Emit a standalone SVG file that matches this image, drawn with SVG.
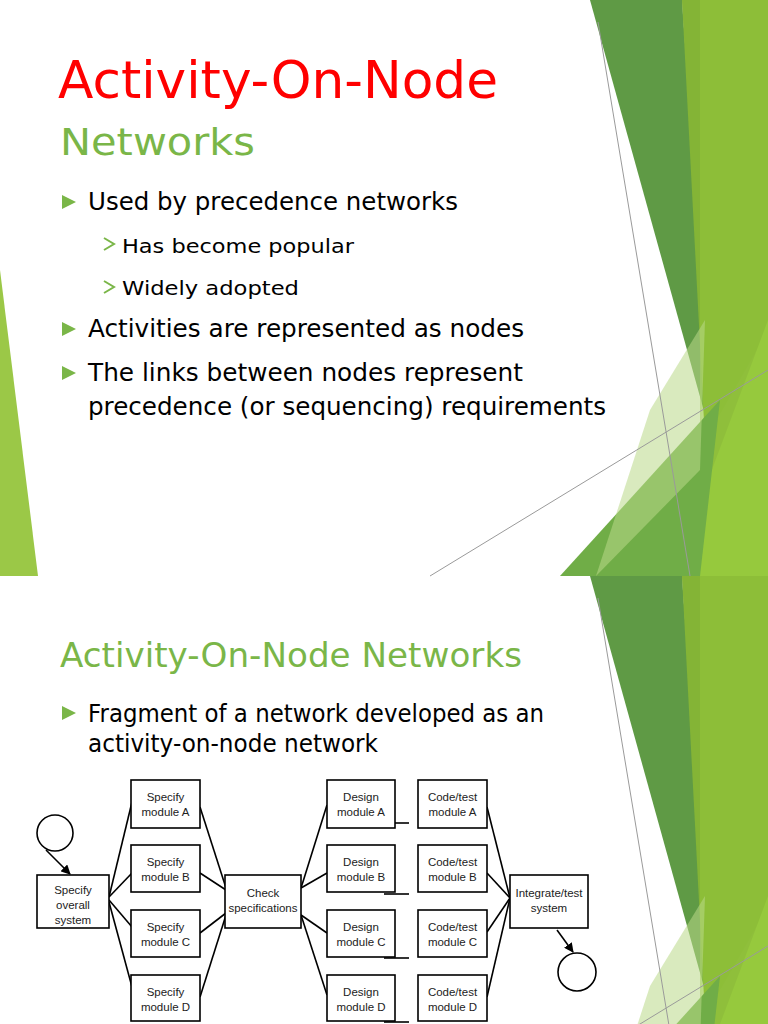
<svg xmlns="http://www.w3.org/2000/svg" xmlns:xlink="http://www.w3.org/1999/xlink" width="768" height="1024" viewBox="0 0 768 1024">
<style>
.t{font-family:"DejaVu Sans",sans-serif;fill:#000}
.b{font-size:24px}
.s{font-size:20px}
.n rect{fill:#fff;stroke:#000;stroke-width:1.6}
.n text{font-family:"Liberation Sans",Arial,sans-serif;font-size:11.5px;text-anchor:middle;fill:#222}
.c line{stroke:#000;stroke-width:1.6}
.thin{stroke:#9a9a9a;stroke-width:1;fill:none}
</style>
<defs>
<marker id="ah" viewBox="0 0 10 10" refX="9" refY="5" markerWidth="6" markerHeight="6" orient="auto"><path d="M0,0L10,5L0,10z" fill="#000"/></marker>
<clipPath id="s2"><rect x="0" y="576" width="768" height="448"/></clipPath>
<g id="deco">
<polygon points="682,0 768,0 768,576 690,576 712,440" fill="#8ab63c"/>
<polygon points="590,0 682,0 712,440" fill="#5f9a45"/>
<polygon points="682,0 768,0 768,330 705,440" fill="#84b436"/>
<polygon points="700,0 768,0 768,576 700,576" fill="#92c43a" opacity="0.6"/>
<polygon points="768,320 768,576 672,576" fill="#96c93d"/>
<polygon points="560,576 720,400 700,576" fill="#70ad47"/>
<polygon points="596,576 650,410 705,320 700,470" fill="#b9d889" opacity="0.55"/>
<line class="thin" x1="598" y1="22" x2="690" y2="576"/>
<line class="thin" x1="430" y1="576" x2="768" y2="370"/>
</g>
<polygon id="bul" points="0,0 14,7 0,14" fill="#7ab648"/>
</defs>
<rect width="768" height="1024" fill="#fff"/>
<use xlink:href="#deco"/>
<polygon points="0,270 38,576 0,576" fill="#9bc847"/>
<g clip-path="url(#s2)"><use xlink:href="#deco" transform="translate(0,576)"/></g>

<text x="58" y="98" font-family="DejaVu Sans,sans-serif" font-size="52" fill="#ff0000" textLength="440" lengthAdjust="spacingAndGlyphs">Activity-On-Node</text>
<text x="60" y="155" font-family="DejaVu Sans,sans-serif" font-size="38" fill="#7ab648" textLength="195" lengthAdjust="spacingAndGlyphs">Networks</text>
<use xlink:href="#bul" x="62" y="195"/>
<text class="t b" x="88" y="210" textLength="370" lengthAdjust="spacingAndGlyphs">Used by precedence networks</text>
<path d="M104,238 l10,6 l-10,6 M104,281 l10,6 l-10,6" stroke="#7ab648" stroke-width="2" fill="none"/>
<text class="t s" x="122" y="253" textLength="232" lengthAdjust="spacingAndGlyphs">Has become popular</text>
<text class="t s" x="122" y="295" textLength="177" lengthAdjust="spacingAndGlyphs">Widely adopted</text>
<use xlink:href="#bul" x="62" y="322"/>
<text class="t b" x="88" y="337" textLength="436" lengthAdjust="spacingAndGlyphs">Activities are represented as nodes</text>
<use xlink:href="#bul" x="62" y="366"/>
<text class="t b" x="88" y="381" textLength="435" lengthAdjust="spacingAndGlyphs">The links between nodes represent</text>
<text class="t b" x="88" y="415" textLength="518" lengthAdjust="spacingAndGlyphs">precedence (or sequencing) requirements</text>

<text x="60" y="667" font-family="DejaVu Sans,sans-serif" font-size="34" fill="#7ab648" textLength="462" lengthAdjust="spacingAndGlyphs">Activity-On-Node Networks</text>
<use xlink:href="#bul" x="62" y="706"/>
<text class="t b" x="88" y="722" textLength="456" lengthAdjust="spacingAndGlyphs">Fragment of a network developed as an</text>
<text class="t b" x="88" y="752" textLength="290" lengthAdjust="spacingAndGlyphs">activity-on-node network</text>

<g class="c">
<line x1="46" y1="850" x2="70" y2="874" marker-end="url(#ah)"/>
<line x1="109" y1="897" x2="132" y2="802"/>
<line x1="109" y1="897" x2="132" y2="873"/>
<line x1="109" y1="900" x2="132" y2="927"/>
<line x1="109" y1="902" x2="132" y2="987"/>
<line x1="200" y1="807" x2="226" y2="888"/>
<line x1="200" y1="873" x2="226" y2="890"/>
<line x1="200" y1="933" x2="226" y2="913"/>
<line x1="200" y1="997" x2="226" y2="915"/>
<line x1="301" y1="888" x2="327" y2="805"/>
<line x1="301" y1="888" x2="327" y2="873"/>
<line x1="301" y1="915" x2="327" y2="933"/>
<line x1="301" y1="915" x2="327" y2="995"/>
<line x1="384" y1="823" x2="409" y2="823"/>
<line x1="384" y1="894" x2="409" y2="894"/>
<line x1="384" y1="958" x2="409" y2="958"/>
<line x1="384" y1="1022" x2="409" y2="1022"/>
<line x1="487" y1="807" x2="510" y2="898"/>
<line x1="487" y1="873" x2="510" y2="898"/>
<line x1="487" y1="932" x2="510" y2="898"/>
<line x1="487" y1="997" x2="510" y2="898"/>
<line x1="557" y1="930" x2="573" y2="952" marker-end="url(#ah)"/>
</g>

<g id="start" class="n"><circle cx="55" cy="833" r="18" fill="#fff" stroke="#000" stroke-width="1.6"/></g>
<g id="overall" class="n"><rect x="37" y="875" width="72" height="53"/><text x="73" y="894">Specify</text><text x="73" y="909">overall</text><text x="73" y="924">system</text></g>
<g id="specA" class="n"><rect x="131" y="780" width="69" height="48"/><text x="165.5" y="801">Specify</text><text x="165.5" y="816">module A</text></g>
<g id="specB" class="n"><rect x="131" y="845" width="69" height="47"/><text x="165.5" y="866">Specify</text><text x="165.5" y="881">module B</text></g>
<g id="specC" class="n"><rect x="131" y="910" width="69" height="47"/><text x="165.5" y="931">Specify</text><text x="165.5" y="946">module C</text></g>
<g id="specD" class="n"><rect x="131" y="975" width="69" height="46"/><text x="165.5" y="996">Specify</text><text x="165.5" y="1011">module D</text></g>
<g id="check" class="n"><rect x="225" y="875" width="76" height="53"/><text x="263" y="897">Check</text><text x="263" y="912">specifications</text></g>
<g id="desA" class="n"><rect x="327" y="780" width="68" height="48"/><text x="361" y="801">Design</text><text x="361" y="816">module A</text></g>
<g id="desB" class="n"><rect x="327" y="845" width="68" height="47"/><text x="361" y="866">Design</text><text x="361" y="881">module B</text></g>
<g id="desC" class="n"><rect x="327" y="910" width="68" height="47"/><text x="361" y="931">Design</text><text x="361" y="946">module C</text></g>
<g id="desD" class="n"><rect x="327" y="975" width="68" height="46"/><text x="361" y="996">Design</text><text x="361" y="1011">module D</text></g>
<g id="codeA" class="n"><rect x="418" y="780" width="69" height="48"/><text x="452.5" y="801">Code/test</text><text x="452.5" y="816">module A</text></g>
<g id="codeB" class="n"><rect x="418" y="845" width="69" height="47"/><text x="452.5" y="866">Code/test</text><text x="452.5" y="881">module B</text></g>
<g id="codeC" class="n"><rect x="418" y="910" width="69" height="47"/><text x="452.5" y="931">Code/test</text><text x="452.5" y="946">module C</text></g>
<g id="codeD" class="n"><rect x="418" y="975" width="69" height="46"/><text x="452.5" y="996">Code/test</text><text x="452.5" y="1011">module D</text></g>
<g id="integ" class="n"><rect x="510" y="875" width="78" height="53"/><text x="549" y="897">Integrate/test</text><text x="549" y="912">system</text></g>
<g id="end" class="n"><circle cx="577" cy="972" r="19" fill="#fff" stroke="#000" stroke-width="1.6"/></g>
</svg>
